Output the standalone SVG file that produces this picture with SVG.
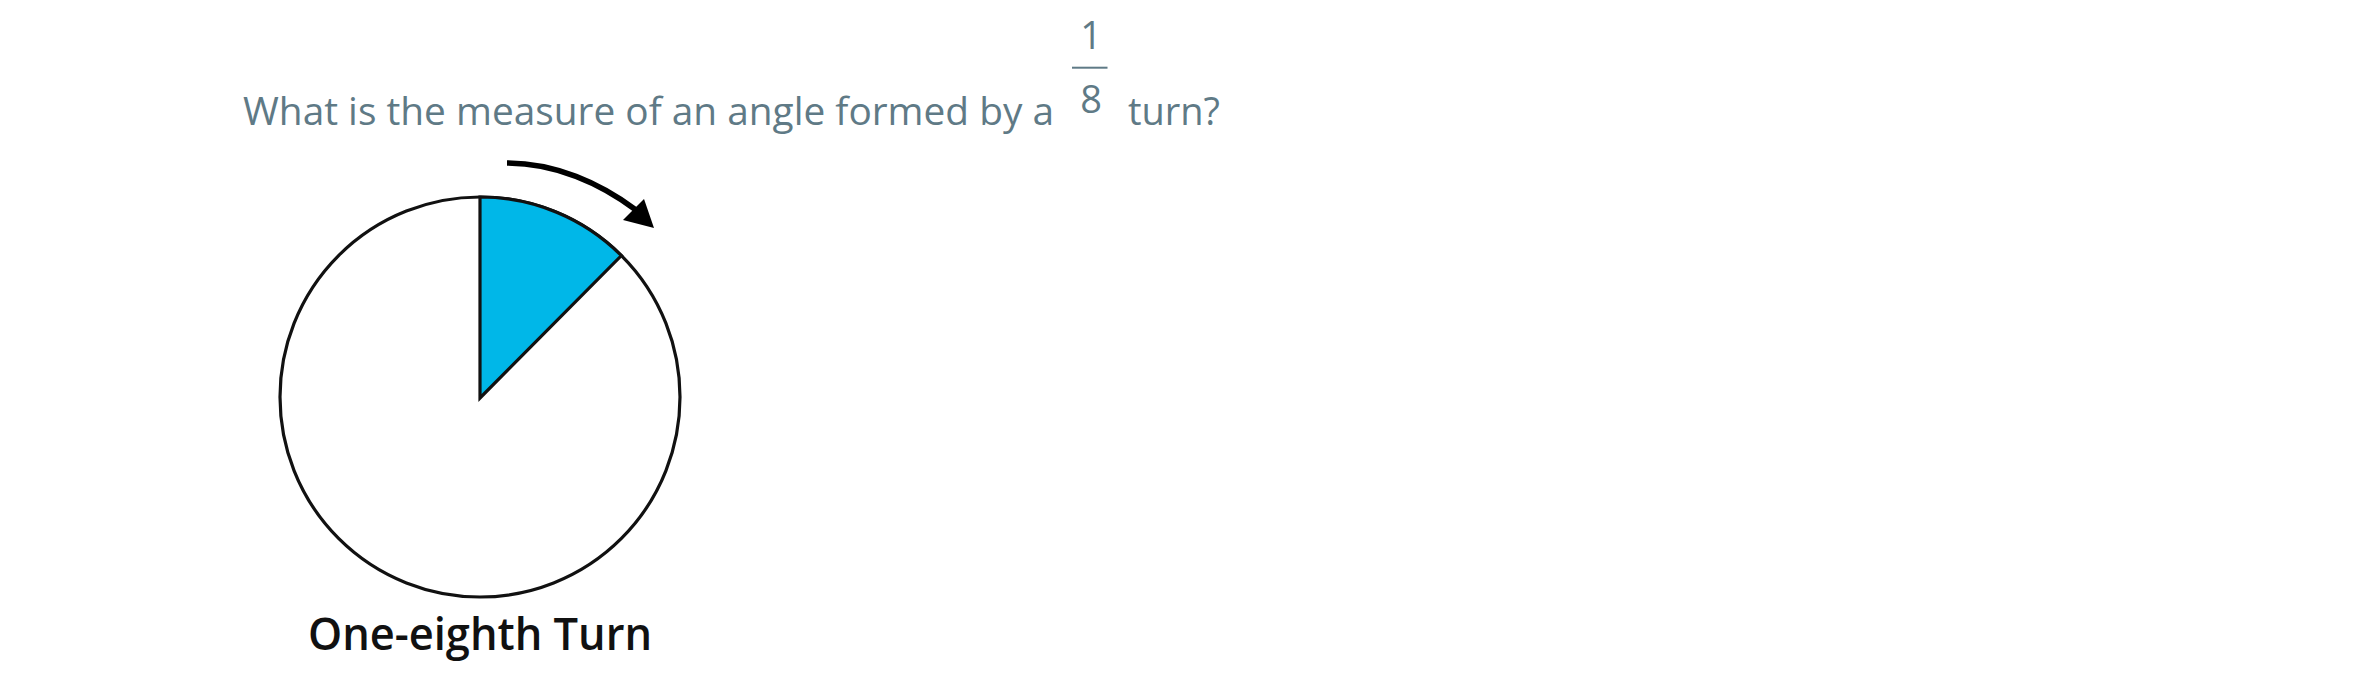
<svg xmlns="http://www.w3.org/2000/svg" width="2360" height="689" viewBox="0 0 2360 689">
<style>
.q{font-family:"Open Sans","Noto Sans","Liberation Sans",sans-serif;font-size:38px;fill:#5f7a86}
.f{font-family:"Open Sans","Noto Sans","Liberation Sans",sans-serif;font-size:38px;fill:#5f7a86}
.lbl{font-family:"Open Sans","Noto Sans","Liberation Sans",sans-serif;font-size:46px;font-weight:600;fill:#111}
.ln{stroke:#111;stroke-width:3.2;fill:none}
</style>
<rect width="2360" height="689" fill="#fff"/>
<g id="question">
<text class="q" x="243" y="125" textLength="811" lengthAdjust="spacingAndGlyphs">What is the measure of an angle formed by a</text>
<text class="f" x="1091" y="49" text-anchor="middle">1</text>
<rect x="1072" y="66.7" width="35.5" height="2" fill="#5f7a86"/>
<text class="f" x="1091" y="113" text-anchor="middle">8</text>
<text class="q" x="1128" y="125" textLength="92" lengthAdjust="spacingAndGlyphs">turn?</text>
</g>
<g id="circle">
<circle class="ln" cx="480" cy="397" r="200" fill="#fff"/>
<path d="M480,398 L480,197 A200,200 0 0 1 621.4,255.6 Z" fill="#00b7e8" stroke="#111" stroke-width="3.2" stroke-linejoin="miter"/>
</g>
<g id="arrow">
<path d="M507,163 C555,163 600,183 636,210" fill="none" stroke="#000" stroke-width="5.5"/>
<polygon points="654,228 644,199 623,220" fill="#000"/>
</g>
<g id="label">
<text class="lbl" x="308" y="650" textLength="344" lengthAdjust="spacingAndGlyphs">One-eighth Turn</text>
</g>
</svg>
